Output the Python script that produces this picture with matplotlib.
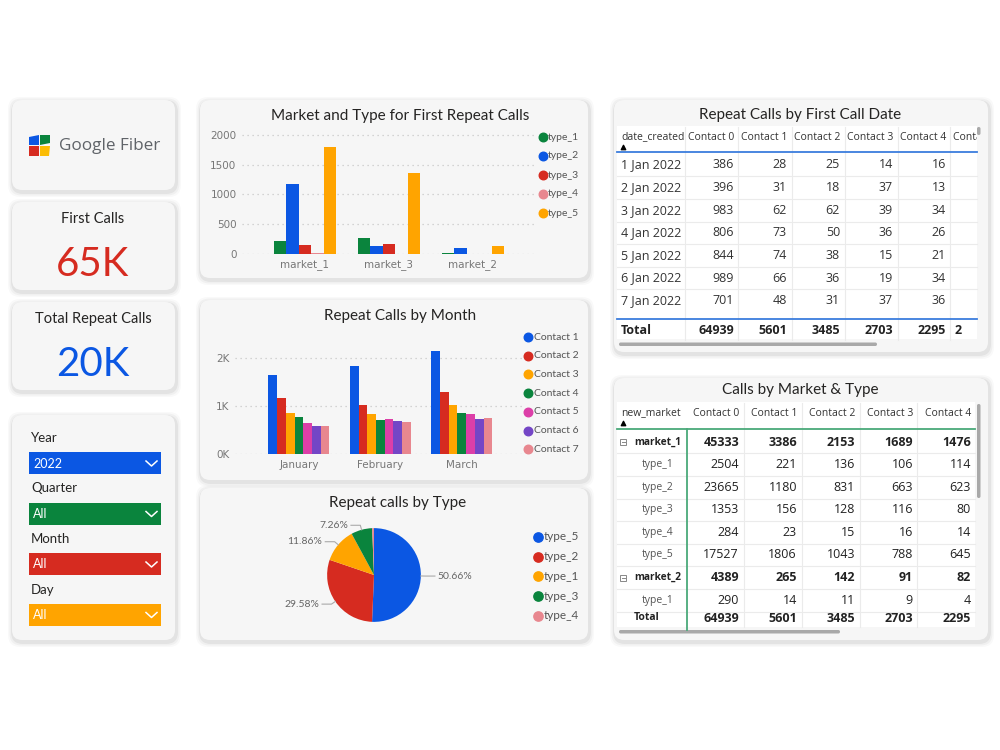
import matplotlib
matplotlib.use('Agg')
import matplotlib.pyplot as plt
from matplotlib.patches import FancyBboxPatch, Rectangle, Polygon
import numpy as np

# colours used by the report theme
BLUE = '#0b57e3'
RED = '#d62b20'
ORANGE = '#ffa400'
GREEN = '#0a843d'
PINK = '#e8878f'
MAGENTA = '#dc3fa8'
PURPLE = '#7446c6'

TITLE_FONT = 'Lato'
TABLE_FONT = 'Open Sans'

# ---- data ----
first_calls = '65K'
total_repeat_calls = '20K'

slicer_names = ['Year', 'Quarter', 'Month', 'Day']
slicer_values = ['2022', 'All', 'All', 'All']
slicer_colors = [BLUE, GREEN, RED, ORANGE]

markets = ['market_1', 'market_3', 'market_2']
bar_types = ['type_1', 'type_2', 'type_3', 'type_4', 'type_5']
type_1_calls = [221, 270, 14]
type_2_calls = [1180, 133, 105]
type_3_calls = [156, 176, 8]
type_4_calls = [23, 6, 3]
type_5_calls = [1806, 1365, 135]
bar_type_colors = [GREEN, BLUE, RED, PINK, ORANGE]

months = ['January', 'February', 'March']
contacts = ['Contact 1', 'Contact 2', 'Contact 3', 'Contact 4',
            'Contact 5', 'Contact 6', 'Contact 7']
contact_1 = [1640, 1830, 2140]
contact_2 = [1170, 1030, 1300]
contact_3 = [860, 840, 1030]
contact_4 = [770, 700, 850]
contact_5 = [650, 740, 830]
contact_6 = [580, 680, 740]
contact_7 = [580, 660, 760]
contact_colors = [BLUE, RED, ORANGE, GREEN, MAGENTA, PURPLE, PINK]

pie_types = ['type_5', 'type_2', 'type_1', 'type_3', 'type_4']
pie_share = [50.66, 29.58, 11.86, 7.26, 0.64]
pie_colors = [BLUE, RED, ORANGE, GREEN, PINK]

date_header = ['date_created', 'Contact 0', 'Contact 1', 'Contact 2',
               'Contact 3', 'Contact 4', 'Contact 5']
dates = ['1 Jan 2022', '2 Jan 2022', '3 Jan 2022', '4 Jan 2022',
         '5 Jan 2022', '6 Jan 2022', '7 Jan 2022']
date_c0 = [386, 396, 983, 806, 844, 989, 701]
date_c1 = [28, 31, 62, 73, 74, 66, 48]
date_c2 = [25, 18, 62, 50, 38, 36, 31]
date_c3 = [14, 37, 39, 36, 15, 19, 37]
date_c4 = [16, 13, 34, 26, 21, 34, 36]
totals = [64939, 5601, 3485, 2703, 2295]

market_header = ['new_market', 'Contact 0', 'Contact 1', 'Contact 2',
                 'Contact 3', 'Contact 4']
market_rows = ['market_1', 'type_1', 'type_2', 'type_3', 'type_4', 'type_5',
               'market_2', 'type_1']
market_values = [
    [45333, 3386, 2153, 1689, 1476],
    [2504, 221, 136, 106, 114],
    [23665, 1180, 831, 663, 623],
    [1353, 156, 128, 116, 80],
    [284, 23, 15, 16, 14],
    [17527, 1806, 1043, 788, 645],
    [4389, 265, 142, 91, 82],
    [290, 14, 11, 9, 4],
]

# ---- canvas ----
fig = plt.figure(figsize=(10, 7.5), dpi=100)
fig.patch.set_facecolor('white')
bg = fig.add_axes([0, 0, 1, 1])
bg.set_xlim(0, 1000)
bg.set_ylim(750, 0)
bg.axis('off')
bg.set_zorder(0)


def card(x0, y0, x1, y1):
    for d, a in [(5, 0.025), (3.5, 0.035), (2, 0.05)]:
        bg.add_patch(FancyBboxPatch((x0 - d + 1, y0 - d + 2), x1 - x0 + 2 * d, y1 - y0 + 2 * d,
                                    boxstyle='round,pad=0,rounding_size=12',
                                    fc='black', ec='none', alpha=a))
    bg.add_patch(FancyBboxPatch((x0, y0), x1 - x0, y1 - y0,
                                boxstyle='round,pad=0,rounding_size=10',
                                fc='#f6f6f6', ec='none'))


def axes_px(x0, y0, x1, y1):
    ax = fig.add_axes([x0 / 1000, 1 - y1 / 750, (x1 - x0) / 1000, (y1 - y0) / 750])
    ax.patch.set_alpha(0)
    ax.set_zorder(2)
    return ax


def clipped(t, rect):
    t.set_clip_on(True)
    t.set_clip_path(rect)


card(12, 100, 175, 190)
card(12, 202, 175, 290)
card(12, 302, 175, 390)
card(12, 415, 175, 640)
card(200, 100, 588, 278)
card(200, 300, 588, 480)
card(200, 488, 588, 640)
card(614, 100, 988, 352)
card(614, 378, 988, 640)

# ---- logo ----
logo = [([(29, 137), (39, 135), (39, 145), (29, 145)], BLUE),
        ([(40, 135), (50, 135), (50, 143), (40, 145)], GREEN),
        ([(29, 146), (39, 146), (39, 156), (29, 156)], RED),
        ([(40, 146), (50, 146), (49, 156), (40, 156)], '#fbbc04')]
for pts, c in logo:
    bg.add_patch(Polygon(pts, closed=True, fc=c, ec='none'))
bg.text(59, 146, 'Google Fiber', fontsize=12.3, color='#5f6368', family=TABLE_FONT,
        va='center', ha='left')

# ---- KPI cards ----
bg.text(93, 219, 'First Calls', fontsize=10.5, color='#252423', family=TITLE_FONT,
        ha='center', va='center')
bg.text(93, 265, first_calls, fontsize=29, color=RED, family=TITLE_FONT,
        ha='center', va='center')
bg.text(93, 319, 'Total Repeat Calls', fontsize=10.5, color='#252423', family=TITLE_FONT,
        ha='center', va='center')
bg.text(93, 365, total_repeat_calls, fontsize=29, color=BLUE, family=TITLE_FONT,
        ha='center', va='center')

# ---- slicers ----
for i, (name, val, c) in enumerate(zip(slicer_names, slicer_values, slicer_colors)):
    y = 438 + i * 50.5
    bg.text(31, y, name, fontsize=9.5, color='#252423', family=TITLE_FONT, va='center')
    bg.add_patch(Rectangle((29, y + 14), 132, 22, fc=c, ec='none'))
    bg.text(33, y + 25.5, val, fontsize=9, color='white', family=TITLE_FONT, va='center')
    bg.plot([146, 151.5, 157], [y + 23, y + 28, y + 23], color='white', lw=1.1)

# ---- Market and Type for First Repeat Calls ----
bg.text(400, 116, 'Market and Type for First Repeat Calls', fontsize=11,
        color='#252423', family=TITLE_FONT, ha='center', va='center')
ax1 = axes_px(242, 129, 535, 254)
x = np.arange(len(markets))
w = 0.148
series = [type_1_calls, type_2_calls, type_3_calls, type_4_calls, type_5_calls]
for i, (vals, c) in enumerate(zip(series, bar_type_colors)):
    ax1.bar(x + (i - 2) * w, vals, w, color=c, zorder=3)
ax1.set_xlim(-0.75, 2.74)
ax1.set_ylim(0, 2100)
ax1.set_yticks([0, 500, 1000, 1500, 2000])
ax1.set_xticks(x)
ax1.set_xticklabels(markets)
for s in ax1.spines.values():
    s.set_visible(False)
ax1.tick_params(length=0, labelsize=7.5, labelcolor='#777777', pad=4)
ax1.yaxis.grid(True, color='#c8c8c8', linestyle=(0, (1, 3)), lw=0.9)
for i, (name, c) in enumerate(zip(bar_types, bar_type_colors)):
    y = 137 + i * 19
    bg.scatter(543, y, s=38, color=c, zorder=3)
    bg.text(548, y, name, fontsize=7.5, color='#555555', family=TITLE_FONT, va='center')

# ---- Repeat Calls by Month ----
bg.text(400, 316, 'Repeat Calls by Month', fontsize=11, color='#252423',
        family=TITLE_FONT, ha='center', va='center')
ax2 = axes_px(235, 338, 522, 454)
xm = np.arange(len(months))
wm = 0.107
cseries = [contact_1, contact_2, contact_3, contact_4, contact_5, contact_6, contact_7]
for i, (vals, c) in enumerate(zip(cseries, contact_colors)):
    ax2.bar(xm + (i - 3) * wm, vals, wm, color=c, zorder=3)
ax2.set_xlim(-0.785, 2.74)
ax2.set_ylim(0, 2420)
ax2.set_yticks([0, 1000, 2000])
ax2.set_yticklabels(['0K', '1K', '2K'])
ax2.set_xticks(xm)
ax2.set_xticklabels(months)
for s in ax2.spines.values():
    s.set_visible(False)
ax2.tick_params(length=0, labelsize=7.5, labelcolor='#777777', pad=4)
ax2.yaxis.grid(True, color='#c8c8c8', linestyle=(0, (1, 3)), lw=0.9)
for i, (name, c) in enumerate(zip(contacts, contact_colors)):
    y = 337 + i * 18.7
    bg.scatter(528, y, s=38, color=c, zorder=3)
    bg.text(534, y, name, fontsize=7.5, color='#555555', family=TITLE_FONT, va='center')

# ---- Repeat calls by Type ----
bg.text(398, 503, 'Repeat calls by Type', fontsize=11, color='#252423',
        family=TITLE_FONT, ha='center', va='center')
ax3 = axes_px(314, 515, 434, 635)
wedges, _ = ax3.pie(pie_share, colors=pie_colors, startangle=90, counterclock=False,
                    wedgeprops=dict(linewidth=0))
ax3.set_xlim(-1.28, 1.28)
ax3.set_ylim(-1.28, 1.28)
ax3.set_aspect('equal')
for wdg, share in zip(wedges[:4], pie_share[:4]):
    ang = np.deg2rad((wdg.theta1 + wdg.theta2) / 2)
    cx, cy = np.cos(ang), np.sin(ang)
    side = 1 if cx > 0 else -1
    ex, ey = 1.1 * cx, 1.1 * cy
    hx = ex + side * 0.2
    ax3.plot([cx, ex, hx], [cy, ey, ey], color='#aaaaaa', lw=0.8, clip_on=False)
    ax3.text(hx + side * 0.06, ey, f'{share:.2f}%', fontsize=7.5, color='#666666',
             family=TITLE_FONT, ha='left' if side > 0 else 'right', va='center')
for i, (name, c) in enumerate(zip(pie_types, pie_colors)):
    y = 537 + i * 19.7
    bg.scatter(538, y, s=45, color=c, zorder=3)
    bg.text(544, y, name, fontsize=8.5, color='#555555', family=TITLE_FONT, va='center')

# ---- Repeat Calls by First Call Date ----
bg.text(800, 115, 'Repeat Calls by First Call Date', fontsize=11, color='#252423',
        family=TITLE_FONT, ha='center', va='center')
clip1 = Rectangle((617, 125), 360, 220, transform=bg.transData)
bg.add_patch(Rectangle((617, 126), 360, 213, fc='white', ec='none'))
col_lines1 = [685, 738, 792, 845, 898, 950]
col_right1 = [734, 787, 840, 893, 946, 999]
for xl in col_lines1:
    bg.plot([xl, xl], [127, 340], color='#ebebeb', lw=0.8)
row_y1 = 165 + np.arange(len(dates)) * 22.6
for y in row_y1[:-1]:
    bg.plot([617, 977], [y + 11.3, y + 11.3], color='#ebebeb', lw=0.8)
bg.text(621, 137, date_header[0], fontsize=7.5, color='#333333', family=TABLE_FONT, va='center')
bg.scatter(623, 146.5, marker='^', s=10, color='black')
for name, xr in zip(date_header[1:], col_right1):
    t = bg.text(xr, 137, name, fontsize=7.5, color='#333333', family=TABLE_FONT,
                va='center', ha='right')
    clipped(t, clip1)
bg.plot([617, 977], [152, 152], color='#3b7ddd', lw=1.3)
date_cols = [date_c0, date_c1, date_c2, date_c3, date_c4]
for r, (d, y) in enumerate(zip(dates, row_y1)):
    bg.text(621, y, d, fontsize=9, color='#333333', family=TABLE_FONT, va='center')
    for col, xr in zip(date_cols, col_right1):
        bg.text(xr, y, f'{col[r]}', fontsize=9, color='#333333', family=TABLE_FONT,
                va='center', ha='right')
bg.plot([617, 977], [319, 319], color='#3b7ddd', lw=1.3)
bg.text(621, 331, 'Total', fontsize=9, color='#222222', family=TABLE_FONT,
        fontweight='bold', va='center')
for v, xr in zip(totals, col_right1):
    bg.text(xr, 331, f'{v}', fontsize=9, color='#222222', family=TABLE_FONT,
            fontweight='bold', va='center', ha='right')
t = bg.text(955, 331, '2', fontsize=9, color='#222222', family=TABLE_FONT,
            fontweight='bold', va='center', ha='left')
clipped(t, clip1)
bg.add_patch(FancyBboxPatch((619, 342.5), 258, 3.5, boxstyle='round,pad=0,rounding_size=1.7',
                            fc='#a9a9a9', ec='none'))
bg.add_patch(FancyBboxPatch((977, 127), 3.5, 8, boxstyle='round,pad=0,rounding_size=1.7',
                            fc='#a9a9a9', ec='none'))

# ---- Calls by Market & Type ----
bg.text(800, 390, 'Calls by Market & Type', fontsize=11, color='#252423',
        family=TITLE_FONT, ha='center', va='center')
bg.add_patch(Rectangle((617, 402), 358, 225, fc='white', ec='none'))
col_lines2 = [744, 802, 860, 917]
col_right2 = [739, 797, 855, 913, 971]
for xl in col_lines2:
    bg.plot([xl, xl], [403, 627], color='#ebebeb', lw=0.8)
row_y2 = 442 + np.arange(len(market_rows)) * 22.6
for y in row_y2:
    bg.plot([617, 975], [y + 11.3, y + 11.3], color='#ebebeb', lw=0.8)
bg.text(621, 413, market_header[0], fontsize=7.5, color='#333333', family=TABLE_FONT,
        va='center')
bg.scatter(623, 423, marker='^', s=10, color='black')
for name, xr in zip(market_header[1:], col_right2):
    bg.text(xr, 413, name, fontsize=7.5, color='#333333', family=TABLE_FONT,
            va='center', ha='right')
bg.plot([617, 975], [429, 429], color='#4aa97a', lw=1.3)
bg.plot([687, 687], [429, 630], color='#4aa97a', lw=1.3)
for name, vals, y in zip(market_rows, market_values, row_y2):
    is_market = name.startswith('market')
    if is_market:
        bg.add_patch(Rectangle((620, y - 3), 6, 6, fc='none', ec='#888888', lw=0.7))
        bg.plot([621.5, 624.5], [y, y], color='#888888', lw=0.7)
        bg.text(634, y, name, fontsize=7.3, color='#222222', family=TABLE_FONT,
                fontweight='bold', va='center')
    else:
        bg.text(642, y, name, fontsize=7.5, color='#555555', family=TABLE_FONT, va='center')
    for v, xr in zip(vals, col_right2):
        bg.text(xr, y, f'{v}', fontsize=9, color='#222222', family=TABLE_FONT,
                fontweight='bold' if is_market else 'normal', va='center', ha='right')
bg.text(634, 617, 'Total', fontsize=7.5, color='#222222', family=TABLE_FONT,
        fontweight='bold', va='center')
for v, xr in zip(totals, col_right2):
    bg.text(xr, 618, f'{v}', fontsize=9, color='#222222', family=TABLE_FONT,
            fontweight='bold', va='center', ha='right')
bg.add_patch(FancyBboxPatch((619, 630), 221, 3.5, boxstyle='round,pad=0,rounding_size=1.7',
                            fc='#a9a9a9', ec='none'))
bg.add_patch(FancyBboxPatch((977, 404), 3.5, 94, boxstyle='round,pad=0,rounding_size=1.7',
                            fc='#a9a9a9', ec='none'))

fig.savefig('out.png', dpi=100, facecolor='white')
